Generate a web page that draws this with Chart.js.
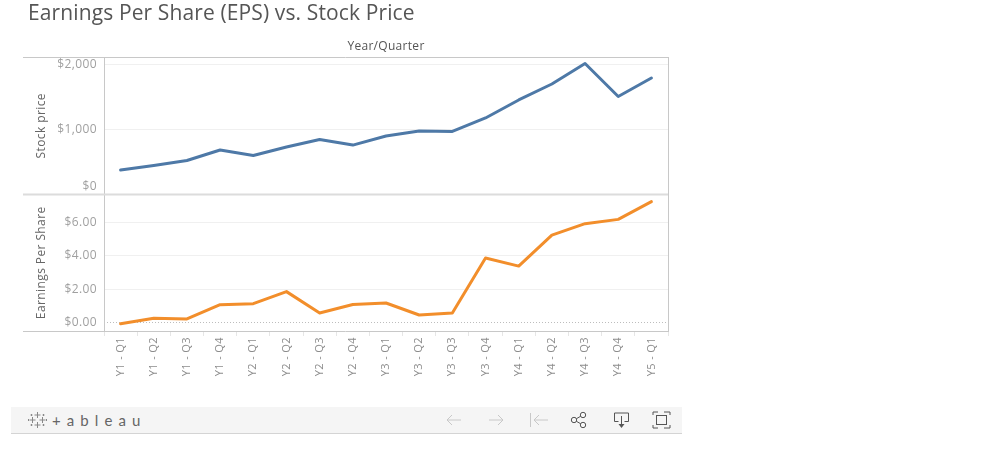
<!DOCTYPE html>
<html>
<head>
<meta charset="utf-8">
<style>
  html, body { margin: 0; padding: 0; background: #fff; }
  body { width: 991px; height: 451px; position: relative; overflow: hidden; font-family: "Open Sans", sans-serif; }
  #chart { position: absolute; left: 0; top: 0; }
  #title { position: absolute; left: 28px; top: -3px; font-size: 21px; line-height: 30px; color: #555; white-space: nowrap; letter-spacing: .12px; }
  #xhead { position: absolute; left: 104px; width: 564px; top: 38px; text-align: center; font-size: 12px; line-height: 16px; color: #555; letter-spacing: .3px; }
  #bar { position: absolute; left: 11px; top: 407px; width: 671px; height: 26px; background: #f5f5f5; border-bottom: 1px solid #d4d4d4; }
  #logo { position: absolute; left: 41px; top: 2px; font-family: Lato, sans-serif; font-size: 15px; line-height: 22px; letter-spacing: 6.1px; color: #666; }
  #bar svg { position: absolute; left: 0; top: 0; }
</style>
</head>
<body>
<canvas id="chart" width="991" height="451"></canvas>
<div id="title">Earnings Per Share (EPS) vs. Stock Price</div>
<div id="xhead">Year/Quarter</div>
<div id="bar">
  <svg width="671" height="26" fill="none" stroke-width="1">
    <g stroke="#888">
      <path d="M26.500 5v6M23.500 8h6M26.500 15v6M23.500 18h6M21.500 10v6M18.500 13h6M31.500 10v6M28.500 13h6"/>
      <path d="M20.500 7v2M19.500 8h2M32.500 7v2M31.500 8h2M20.500 17v2M19.500 18h2M32.500 17v2M31.500 18h2M17.500 12v2M35.500 12v2"/>
    </g>
    <g stroke="#c8c8c8">
      <path d="M436 13h14M441 8l-5 5 5 5"/>
      <path d="M478 13h14M487 8l5 5-5 5"/>
      <path d="M519.500 6v14M523 13h14M528 8l-5 5 5 5"/>
    </g>
    <g stroke="#555">
      <circle cx="563" cy="13" r="2.700"/><circle cx="572" cy="8" r="2.700"/><circle cx="572" cy="18" r="2.700"/>
      <path d="M565.400 11.700l4.200-2.400M565.400 14.300l4.200 2.400"/>
      <path d="M603.500 14.500v-8.500h14v8.500h-4M607.500 14.500h-4M610.500 9v8"/>
      <path d="M642 8v-3h5M653 5h6v3M642 18v3h5M653 21h6v-3"/>
      <rect x="645.500" y="8.500" width="10" height="9"/>
    </g>
    <path d="M607.500 17h6l-3 4z" fill="#555"/>
  </svg>
  <div id="logo">+ableau</div>
</div>
<script src="https://cdn.jsdelivr.net/npm/chart.js@4/dist/chart.umd.js"></script>
<script>
var quarters = ["Y1 - Q1", "Y1 - Q2", "Y1 - Q3", "Y1 - Q4", "Y2 - Q1", "Y2 - Q2", "Y2 - Q3", "Y2 - Q4", "Y3 - Q1", "Y3 - Q2", "Y3 - Q3", "Y3 - Q4", "Y4 - Q1", "Y4 - Q2", "Y4 - Q3", "Y4 - Q4", "Y5 - Q1"];
var stockPrice = [377, 446, 523, 685, 600, 730, 846, 760, 900, 977, 970, 1177, 1454, 1700, 2015, 1508, 1792];
var eps = [-0.06, 0.27, 0.22, 1.08, 1.14, 1.86, 0.58, 1.09, 1.18, 0.46, 0.58, 3.87, 3.39, 5.25, 5.93, 6.19, 7.25];
var stockTicks = [0, 1000, 2000];
var epsTicks = [0, 2, 4, 6];

var gridColor = '#f0f0f0';
var frameColor = '#c8c8c8';
var titleFont = { family: 'Open Sans', size: 12 };

// Tableau style frame around the two panes
var frame = {
  id: 'frame',
  beforeDraw: (chart) => {
    chart.ctx.letterSpacing = '0.4px';
  },
  afterDraw: (chart) => {
    var ctx = chart.ctx;
    var area = chart.chartArea;
    var left = chart.scales.yStock.left;
    var mid = chart.scales.yStock.bottom;
    ctx.save();
    ctx.lineWidth = 1;
    ctx.strokeStyle = frameColor;
    ctx.beginPath();
    ctx.moveTo(left, area.top + .5); ctx.lineTo(area.right, area.top + .5);
    ctx.moveTo(left, area.bottom + .5); ctx.lineTo(area.right, area.bottom + .5);
    ctx.moveTo(area.left + .5, area.top); ctx.lineTo(area.left + .5, area.bottom);
    ctx.moveTo(area.right + .5, area.top); ctx.lineTo(area.right + .5, area.bottom + 1);
    ctx.stroke();
    ctx.strokeStyle = '#dcdcdc';
    ctx.lineWidth = 2;
    ctx.beginPath();
    ctx.moveTo(left, mid); ctx.lineTo(area.right, mid);
    ctx.stroke();
    ctx.restore();
  }
};

var yAxis = (values, extra) => Object.assign({
  type: 'linear',
  position: 'left',
  stack: 'panes',
  afterFit: (scale) => { scale.width = 81; },
  afterBuildTicks: (scale) => { scale.ticks = values.map((v) => ({ value: v })); },
  border: { display: false },
  grid: { color: gridColor, drawTicks: false }
}, extra);

new Chart(document.getElementById('chart').getContext('2d'), {
  type: 'line',
  data: {
    labels: quarters,
    datasets: [{
      label: 'Stock price',
      data: stockPrice,
      yAxisID: 'yStock',
      borderColor: '#4e79a7',
      borderWidth: 3,
      borderCapStyle: 'round',
      borderJoinStyle: 'round',
      pointRadius: 0,
      tension: 0
    }, {
      label: 'Earnings Per Share',
      data: eps,
      yAxisID: 'yEps',
      borderColor: '#f28e2b',
      borderWidth: 3,
      borderCapStyle: 'round',
      borderJoinStyle: 'round',
      pointRadius: 0,
      tension: 0
    }]
  },
  options: {
    responsive: false,
    animation: false,
    layout: { padding: { left: 23, top: 57, right: 323, bottom: 60 } },
    plugins: { legend: { display: false }, tooltip: { enabled: false } },
    scales: {
      x: {
        type: 'category',
        offset: true,
        afterFit: (scale) => { scale.height = 60; },
        border: { display: false },
        grid: { offset: true, drawOnChartArea: false, color: '#e6e6e6', tickLength: 5 },
        ticks: { color: '#8c8c8c', font: { family: 'Open Sans', size: 11 }, minRotation: 90, maxRotation: 90, padding: 1, autoSkip: false }
      },
      // stacked axes are laid out bottom first
      yEps: yAxis(epsTicks, {
        stackWeight: 136.5,
        min: -0.5,
        max: 7.68,
        title: { display: true, text: 'Earnings Per Share', color: '#666', font: titleFont, padding: { top: 11, bottom: 0 } },
        border: { display: false, dash: (c) => c.tick && c.tick.value === 0 ? [1, 2] : [] },
        grid: {
          color: (c) => c.tick && c.tick.value === 0 ? '#bdbdbd' : gridColor,
          drawTicks: false
        },
        ticks: {
          color: '#a0a0a0',
          font: { family: 'Open Sans', size: 12 },
          padding: 7,
          callback: (v) => '$' + v.toFixed(2)
        }
      }),
      yStock: yAxis(stockTicks, {
        stackWeight: 137.5,
        min: 0,
        max: 2115,
        title: { display: true, text: 'Stock price', color: '#666', font: titleFont, padding: { top: 11, bottom: 0 } },
        ticks: {
          color: '#a0a0a0',
          font: { family: 'Open Sans', size: 12, lineHeight: 1.4 },
          padding: 7,
          // the $0 label is lifted so it stays inside its pane
          callback: (v) => v === 0 ? ['$0', ''] : '$' + v.toLocaleString('en-US')
        }
      })
    }
  },
  plugins: [frame]
});
</script>
</body>
</html>
